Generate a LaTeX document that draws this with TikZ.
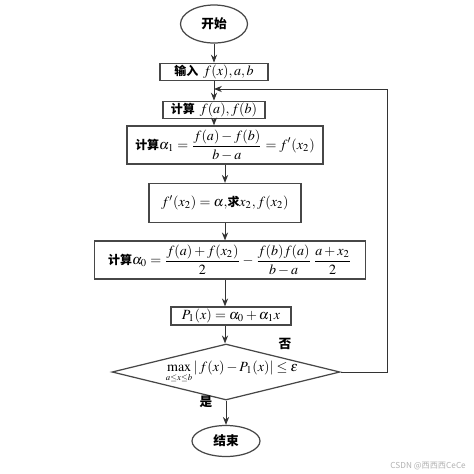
\documentclass[tikz,border=0pt]{standalone}
\usepackage{mathptmx}
\usepackage{fontspec}
\newfontfamily\cjk[Scale=0.85]{Noto Sans CJK SC}
\usetikzlibrary{shapes.geometric,arrows.meta}
\newcommand{\zh}[1]{{\cjk\bfseries #1}}

\begin{document}
\begin{tikzpicture}[x=0.02cm,y=-0.02cm,
  box/.style={draw=black!72, line width=0.7pt, inner sep=1pt, font=\fontsize{8}{10}\selectfont},
  arr/.style={-{Stealth[length=4.5pt,width=3.5pt]}, draw=black!80, line width=0.5pt}]
\useasboundingbox[fill=white] (0,0) rectangle (474,474);
% flow of boxes
\node[box, ellipse, minimum width=1.34cm, minimum height=0.76cm, font=\fontsize{8.5}{10}\selectfont] (start) at (214,24) {\zh{开始}};
\node[box, minimum width=2.16cm, minimum height=0.32cm] (input) at (214,72) {\zh{输入} $f(x),a,b$};
\node[box, minimum width=2.04cm, minimum height=0.34cm] (calcf) at (214,110) {\zh{计算} $f(a),f(b)$};
\node[box, minimum width=3.92cm, minimum height=0.76cm] (alphaone) at (225,145) {\zh{计算}$\alpha_1=\displaystyle\frac{f(a)-f(b)}{b-a}=f'(x_2)$};
\node[box, minimum width=3.04cm, minimum height=0.78cm] (fprime) at (225,203) {$f'(x_2)=\alpha,$\zh{求}$x_2,f(x_2)$};
\node[box, minimum width=5.42cm, minimum height=0.76cm] (alphazero) at (230,260) {\zh{计算}$\alpha_0=\displaystyle\frac{f(a)+f(x_2)}{2}-\frac{f(b)f(a)}{b-a}\,\frac{a+x_2}{2}$};
\node[box, minimum width=2.40cm, minimum height=0.36cm] (pone) at (231,316) {$P_1(x)=\alpha_0+\alpha_1x$};
\node[box, diamond, inner sep=0pt, minimum width=4.56cm, minimum height=1.12cm] (check) at (226,372) {};
\node[font=\fontsize{8}{10}\selectfont] (checktext) at (232,372) {$\displaystyle\max_{\scriptscriptstyle a\le x\le b}|\,f(x)-P_1(x)|\le\varepsilon$};
\node[font=\fontsize{8.5}{10}\selectfont] (no) at (285,344) {\zh{否}};
\node[box, ellipse, minimum width=1.36cm, minimum height=0.62cm, font=\fontsize{8.5}{10}\selectfont] (finish) at (226,441) {\zh{结束}};
% labels
\node[font=\fontsize{8.5}{10}\selectfont] (yes) at (206,402) {\zh{是}};
\node[font=\fontsize{5.5}{6}\selectfont, text=black!30, anchor=east] (mark) at (472,466) {\cjk CSDN @西西西CeCe};
% connectors
\coordinate (col) at (225,0);
\coordinate (loopt) at (387,89);
\draw[arr] (start) -- (input);
\draw[arr] (input) -- (calcf);
\draw[arr] (calcf) -- (calcf |- alphaone.north);
\draw[arr] (alphaone.south -| col) -- (fprime.north -| col);
\draw[arr] (fprime.south -| col) -- (alphazero.north -| col);
\draw[arr] (alphazero.south -| col) -- (pone.north -| col);
\draw[arr] (pone.south -| col) -- (check.north -| col);
\draw[arr] (check.south) -- (finish);
\draw[arr] (check.east) -| (loopt) -- (input.south |- loopt);
\end{tikzpicture}
\end{document}
